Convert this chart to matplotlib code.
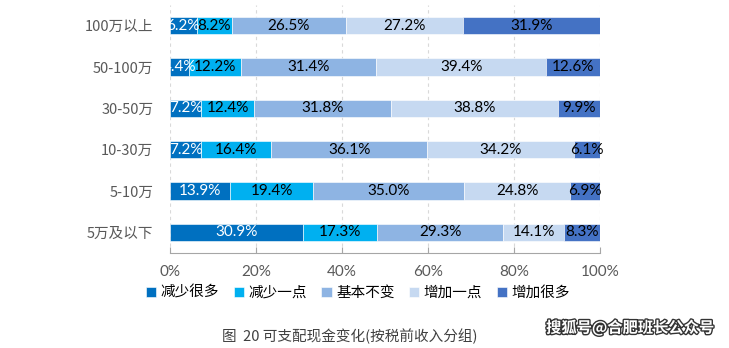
"""
可支配现金变化（按税前收入分组）- 百分比堆叠条形图
"""
import matplotlib
matplotlib.use('Agg')
import matplotlib.pyplot as plt
import matplotlib.patheffects as pe
import numpy as np

plt.rcParams['font.family'] = ['Noto Sans CJK SC', 'DejaVu Sans']
plt.rcParams['axes.unicode_minus'] = False

# 收入分组（自上而下）
groups = ['100万以上', '50-100万', '30-50万', '10-30万', '5-10万', '5万及以下']
series_names = ['减少很多', '减少一点', '基本不变', '增加一点', '增加很多']
colors = ['#0070C0', '#00B0F0', '#8EB4E3', '#C6D9F1', '#4472C4']
label_colors = ['white', 'black', 'black', 'black', 'black']

dec_much = [6.2, 4.4, 7.2, 7.2, 13.9, 30.9]
dec_little = [8.2, 12.2, 12.4, 16.4, 19.4, 17.3]
unchanged = [26.5, 31.4, 31.8, 36.1, 35.0, 29.3]
inc_little = [27.2, 39.4, 38.8, 34.2, 24.8, 14.1]
inc_much = [31.9, 12.6, 9.9, 6.1, 6.9, 8.3]
series = [dec_much, dec_little, unchanged, inc_little, inc_much]

x_ticks = [0, 20, 40, 60, 80, 100]
x_ticklabels = ['0%', '20%', '40%', '60%', '80%', '100%']

fig = plt.figure(figsize=(7.29, 3.48), dpi=100)
ax = fig.add_axes([170 / 729, 95 / 348, 430 / 729, 248 / 348])

y = np.arange(len(groups))
left = np.zeros(len(groups))
for name, vals, c, tc in zip(series_names, series, colors, label_colors):
    vals = np.array(vals)
    ax.barh(y, vals, left=left, height=0.42, color=c, label=name,
            edgecolor='white', linewidth=0.4, zorder=2)
    for yi, l, v in zip(y, left, vals):
        ax.text(l + v / 2, yi, f'{v:.1f}%', ha='center', va='center',
                fontsize=11, color=tc, family=['Lato', 'DejaVu Sans'], zorder=3)
    left += vals

ax.set_xlim(0, 100)
ax.set_ylim(len(groups) - 0.5, -0.5)
ax.set_yticks(y)
ax.set_yticklabels(groups, fontsize=10.5, color='#595959')
ax.set_xticks(x_ticks)
ax.set_xticklabels(x_ticklabels, fontsize=11, color='#595959',
                   family=['Lato', 'DejaVu Sans'])
ax.tick_params(axis='y', length=0, pad=12)
ax.tick_params(axis='x', direction='in', length=4, color='#A6A6A6', pad=9)

# 竖向虚线网格
ax.grid(axis='x', linestyle=(0, (3, 3)), color='#D9D9D9', linewidth=0.8, zorder=0)
for s in ['top', 'right', 'left']:
    ax.spines[s].set_visible(False)
ax.spines['bottom'].set_color('#A6A6A6')

fig.legend(loc='center', bbox_to_anchor=(358 / 729, 1 - 293 / 348), ncol=5,
           frameon=False, fontsize=10.5, handlelength=0.7, handleheight=0.7,
           handletextpad=0.3, columnspacing=1.0, borderaxespad=0)

fig.text(350 / 729, 1 - 336 / 348, '图  20 可支配现金变化(按税前收入分组)',
         ha='center', va='center', fontsize=10.5, color='#404040')

wm = fig.text(630 / 729, 1 - 328 / 348, '搜狐号@合肥班长公众号',
              ha='center', va='center', fontsize=11, color='white',
              fontweight='bold')
wm.set_path_effects([pe.withStroke(linewidth=2, foreground='#333333')])

fig.savefig('out.png', dpi=100)
